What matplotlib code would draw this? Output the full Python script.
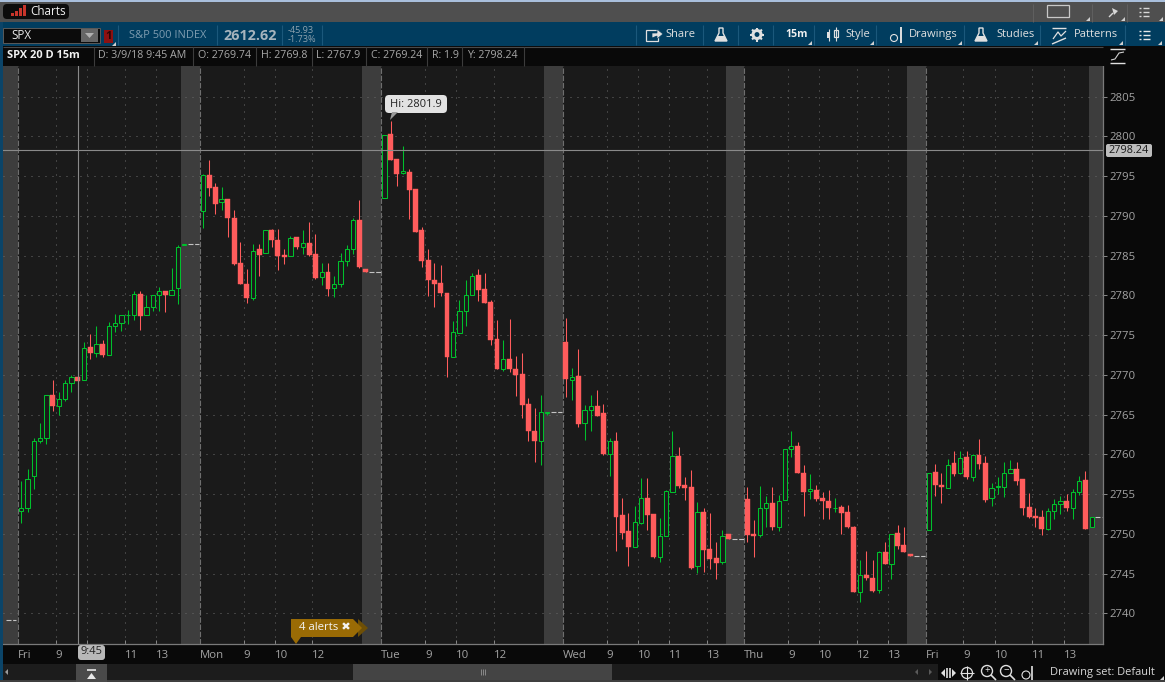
import matplotlib
matplotlib.use("Agg")
import matplotlib.pyplot as plt
from matplotlib.patches import Rectangle, FancyBboxPatch, Polygon, Circle
import numpy as np

plt.rcParams['font.family'] = ['Open Sans', 'DejaVu Sans']

# 15m bars, one row per session, 2 empty slots between sessions
opens = [
    2752.9,2753.3,2757.3,2761.7,2762.1,2767.5,2766.1,2767.0,2769.0,2769.74,2769.3,2773.5,2772.8,2773.9,2772.5,2776.2,2776.5,2777.5,2777.5,2780.2,2777.5,2778.6,2780.0,2780.6,2780.1,2780.9,2786.4, None,None,
    2790.6,2795.2,2793.6,2791.7,2792.1,2789.8,2784.1,2781.5,2779.7,2785.8,2785.3,2788.2,2787.0,2785.1,2784.9,2787.3,2786.1,2786.6,2785.2,2782.3,2783.0,2780.9,2781.4,2784.3,2785.8,2789.5,2783.3, None,None,
    2792.3,2800.3,2797.2,2795.4,2795.5,2793.4,2788.2,2784.5,2782.0,2781.6,2780.3,2772.3,2775.3,2778.0,2780.0,2782.6,2780.8,2779.2,2774.5,2770.8,2772.0,2770.7,2770.1,2766.3,2762.9,2761.7,2765.2, None,None,
    2774.2,2769.4,2769.9,2763.9,2765.6,2766.1,2765.2,2760.1,2761.7,2752.4,2750.4,2748.4,2751.4,2754.5,2752.5,2747.1,2749.7,2755.3,2759.8,2756.2,2755.9,2745.9,2752.8,2748.1,2747.0,2746.4,2750.0, None,None,
    2754.4,2750.0,2749.8,2753.3,2753.9,2750.9,2754.2,2760.7,2761.1,2757.7,2755.4,2755.5,2754.5,2754.1,2753.2,2753.4,2752.7,2750.8,2742.7,2744.8,2744.5,2742.9,2747.7,2746.2,2750.1,2748.6,2747.4, None,None,
    2750.5,2757.8,2756.1,2755.8,2758.9,2757.6,2759.7,2757.1,2759.9,2758.9,2754.5,2755.9,2755.9,2757.7,2758.2,2756.9,2753.4,2752.2,2752.1,2750.6,2752.9,2753.7,2754.1,2753.3,2755.3,2756.8,2750.8,
]
highs = [
    2756.7,2758.1,2762.0,2763.9,2767.5,2769.3,2767.8,2769.3,2770.0,2769.8,2774.1,2775.1,2776.1,2774.4,2776.7,2777.6,2777.5,2778.2,2780.5,2780.5,2780.0,2780.0,2781.1,2780.6,2783.4,2786.4,2786.5, None,None,
    2795.3,2797.0,2794.1,2793.6,2792.1,2790.8,2786.7,2783.3,2786.5,2786.5,2788.2,2788.4,2788.3,2785.9,2787.5,2787.3,2788.2,2789.3,2787.7,2784.1,2784.1,2782.5,2785.4,2786.4,2789.7,2792.0,2783.3, None,None,
    2800.2,2801.9,2797.2,2798.8,2795.9,2793.4,2788.6,2785.9,2784.1,2783.8,2780.3,2776.8,2779.4,2782.0,2782.8,2783.3,2782.8,2779.4,2776.9,2774.4,2777.0,2772.4,2772.8,2767.1,2765.8,2767.5,2765.3, None,None,
    2777.2,2770.9,2773.3,2766.2,2767.5,2768.1,2766.4,2762.0,2762.8,2754.5,2752.6,2753.5,2757.0,2757.0,2752.5,2752.0,2755.5,2763.0,2760.9,2757.2,2758.0,2754.0,2753.3,2752.6,2749.0,2750.5,2750.0, None,None,
    2755.9,2751.8,2756.0,2754.7,2755.9,2754.9,2760.7,2763.0,2761.6,2758.6,2757.5,2756.2,2755.3,2755.5,2754.5,2753.6,2753.6,2751.0,2746.7,2747.8,2746.7,2747.8,2749.0,2750.0,2751.1,2750.8,2747.4, None,None,
    2757.7,2758.8,2757.7,2759.4,2760.4,2760.4,2760.4,2760.0,2761.9,2759.8,2756.4,2757.1,2759.0,2759.3,2759.0,2756.9,2755.1,2753.2,2753.0,2753.2,2754.4,2754.8,2755.0,2755.6,2757.3,2757.9,2752.1,
]
lows = [
    2751.4,2752.7,2755.7,2761.4,2761.3,2765.5,2765.0,2766.7,2767.8,2767.9,2769.3,2772.0,2772.3,2772.3,2772.5,2775.4,2775.5,2776.4,2776.9,2775.7,2777.5,2778.0,2778.1,2777.9,2780.0,2778.9,2786.3, None,None,
    2788.5,2792.5,2790.3,2790.7,2787.3,2783.8,2781.4,2779.1,2779.4,2782.4,2785.3,2786.1,2783.2,2783.9,2784.9,2785.8,2785.2,2785.0,2782.1,2781.3,2779.9,2779.8,2781.1,2783.7,2785.2,2783.5,2783.0, None,None,
    2792.3,2797.1,2793.8,2795.3,2789.6,2788.0,2783.6,2779.9,2778.6,2779.9,2769.7,2772.3,2775.3,2776.2,2780.0,2779.3,2779.1,2773.8,2770.8,2770.5,2770.4,2767.3,2764.6,2761.7,2759.0,2758.7,2765.0, None,None,
    2767.2,2766.9,2763.5,2761.8,2763.0,2764.8,2759.9,2757.3,2747.9,2749.4,2746.0,2748.4,2751.3,2750.5,2747.0,2746.5,2749.7,2755.3,2755.8,2754.3,2745.6,2745.1,2745.2,2745.6,2744.3,2746.2,2749.4, None,None,
    2749.0,2747.1,2749.6,2750.8,2750.5,2750.4,2754.2,2759.7,2757.6,2752.3,2754.4,2754.1,2751.9,2751.9,2752.8,2750.0,2750.7,2742.7,2741.4,2744.2,2742.7,2742.5,2746.2,2744.3,2748.1,2747.7,2747.2, None,None,
    2750.5,2754.8,2753.9,2755.8,2757.3,2757.5,2756.9,2756.6,2758.2,2754.0,2753.5,2755.0,2754.6,2757.6,2756.1,2752.4,2752.0,2750.8,2749.8,2750.5,2751.9,2752.5,2752.9,2751.9,2754.9,2750.6,2750.8,
]
closes = [
    2753.3,2756.9,2761.7,2762.1,2767.5,2766.1,2767.0,2769.0,2769.7,2769.24,2773.4,2772.8,2773.9,2772.5,2776.2,2776.5,2777.5,2777.5,2780.2,2777.4,2778.6,2780.0,2780.6,2780.0,2780.7,2786.1,2786.5, None,None,
    2795.1,2793.5,2791.5,2792.1,2789.8,2784.0,2781.4,2779.7,2785.6,2785.1,2788.2,2787.0,2785.0,2784.8,2787.2,2786.1,2786.6,2785.1,2782.2,2782.9,2780.8,2781.5,2784.3,2785.9,2789.5,2783.6,2783.0, None,None,
    2800.2,2797.1,2795.3,2795.6,2793.3,2788.0,2784.3,2781.9,2781.4,2780.3,2772.2,2775.4,2778.0,2780.1,2782.5,2780.7,2779.1,2774.4,2770.8,2772.0,2770.7,2770.0,2766.2,2762.9,2761.7,2765.3,2765.3, None,None,
    2769.5,2769.7,2763.8,2765.6,2766.1,2764.8,2760.1,2761.7,2752.1,2750.1,2748.4,2751.5,2754.5,2752.4,2747.1,2749.7,2755.4,2759.8,2756.0,2755.8,2745.7,2752.7,2748.0,2746.8,2746.3,2749.7,2749.4, None,None,
    2749.9,2749.7,2753.3,2753.9,2750.9,2754.1,2760.7,2761.0,2757.6,2755.3,2755.6,2754.4,2754.1,2753.3,2753.3,2752.6,2750.8,2742.7,2744.8,2744.4,2742.8,2747.7,2746.2,2750.0,2748.5,2747.7,2747.2, None,None,
    2757.7,2756.1,2755.9,2758.7,2757.5,2759.6,2757.1,2759.9,2758.8,2754.2,2755.8,2756.0,2757.7,2758.1,2756.6,2753.2,2752.1,2752.0,2750.6,2752.9,2753.7,2754.1,2753.2,2755.3,2756.7,2750.6,2752.1,
]
prev_close = 2739.1
crosshair_bar = 9
crosshair_price = 2798.24

price_ticks = [2740, 2745, 2750, 2755, 2760, 2765, 2770, 2775, 2780, 2785, 2790, 2795, 2800, 2805]
session_starts = [-0.5, 28.5, 57.5, 86.5, 115.5, 144.5]
session_labels = ['Fri', 'Mon', 'Tue', 'Wed', 'Thu', 'Fri']
time_ticks = [5.5, 10.5, 16.5, 21.5, 35.5, 40.5, 46.5, 64.5, 69.5, 75.5, 93.5, 98.5, 103.5, 109.5,
              122.5, 127.5, 133.5, 138.5, 150.5, 155.5, 161.5, 166.5]
time_labels = ['9', '', '11', '13', '9', '10', '12', '9', '10', '12', '9', '10', '11', '13',
               '9', '10', '12', '13', '9', '10', '11', '13']

BG = '#1a1a1a'
BAND = '#3d3d3d'
GREEN = '#00c02c'
RED = '#ff5c5c'
GRID = '#6a6a6a'
AXIS_TXT = '#a3a3a3'

W, H = 1165, 682
fig = plt.figure(figsize=(W / 100, H / 100), dpi=100, facecolor='#090909')

# chart area is x 3..1103, y 66..643.5 in pixels
ax = fig.add_axes([3 / W, 1 - 643.5 / H, 1100 / W, 577.5 / H], facecolor=BG)
ax.set_xlim(-2.92, 172.8)
ax.set_ylim(2736.2, 2808.87)

o = np.array(opens, dtype=float)
h = np.array(highs, dtype=float)
l = np.array(lows, dtype=float)
c = np.array(closes, dtype=float)
idx = np.arange(len(o))
ok = ~np.isnan(o)
up = ok & (c >= o)
down = ok & (c < o)

# extended hours bands
ax.axvspan(-2.92, -0.5, color=BAND, lw=0, zorder=1)
for s in session_starts[1:]:
    ax.axvspan(s - 3, s, color=BAND, lw=0, zorder=1)
ax.axvspan(170.6, 172.8, color=BAND, lw=0, zorder=1)

for p in price_ticks:
    ax.axhline(p, color=GRID, lw=0.72, ls=(0, (1, 6)), zorder=2)
for t in time_ticks:
    ax.axvline(t, color=GRID, lw=0.72, ls=(0, (1, 6)), zorder=2)
for s in session_starts:
    ax.axvline(s, color='#6e6e6e', lw=0.8, ls=(0, (5, 1.5)), zorder=2)

ax.vlines(idx[up], l[up], h[up], color=GREEN, lw=0.75, zorder=3)
ax.vlines(idx[down], l[down], h[down], color=RED, lw=0.75, zorder=3)
ax.bar(idx[up], (c - o)[up], bottom=o[up], width=0.7, facecolor=BG, edgecolor=GREEN, lw=0.75, zorder=4)
ax.bar(idx[down], (o - c)[down], bottom=c[down], width=0.78, facecolor=RED, edgecolor=RED, lw=0.3, zorder=4)

# dashed closes carried through the gaps
dash = (0, (4.5, 1.5))
for last in [26, 55, 84, 113, 142]:
    ax.hlines(closes[last], last + 0.6, last + 2.4, color='#c4c4c4', lw=0.8, ls=dash, zorder=3)
ax.hlines(closes[171], 171.6, 172.7, color='#c4c4c4', lw=0.8, ls=dash, zorder=3)
ax.hlines(prev_close, -2.5, -0.8, color='#c4c4c4', lw=0.8, ls=dash, zorder=3)

# crosshair
ax.axvline(crosshair_bar, color='#8a8a8a', lw=0.8, zorder=5)
ax.axhline(crosshair_price, color='#8a8a8a', lw=0.8, zorder=5)

for side in ['top', 'left']:
    ax.spines[side].set_visible(False)
for side in ['bottom', 'right']:
    ax.spines[side].set_color('#7a7a7a')
    ax.spines[side].set_linewidth(0.9)

ax.yaxis.tick_right()
ax.set_yticks(price_ticks)
ax.set_yticklabels([str(p) for p in price_ticks], fontsize=8.2, color=AXIS_TXT)
ax.tick_params(axis='y', length=3, width=0.7, color='#8a8a8a', pad=1.5)
ax.set_xticks(time_ticks + session_starts)
ax.set_xticklabels(time_labels + session_labels, fontsize=8.2, color=AXIS_TXT, ha='left')
ax.tick_params(axis='x', direction='in', length=3, width=0.7, color='#8a8a8a', pad=5)

# everything around the chart is drawn in pixel coordinates
ui = fig.add_axes([0, 0, 1, 1], zorder=5)
ui.set_xlim(0, W)
ui.set_ylim(H, 0)
ui.axis('off')
ui.patch.set_alpha(0)


def box(x0, y0, x1, y1, fc, ec='none', lw=0):
    ui.add_patch(Rectangle((x0, y0), x1 - x0, y1 - y0, facecolor=fc, edgecolor=ec, lw=lw))


def rbox(x0, y0, x1, y1, fc, r=3, ec='none', lw=0):
    ui.add_patch(FancyBboxPatch((x0 + r, y0 + r), x1 - x0 - 2 * r, y1 - y0 - 2 * r,
                                boxstyle='round,pad=%d' % r, facecolor=fc, edgecolor=ec, lw=lw))


def txt(x, y, s, size=8.0, color='#b5b5b5', weight='normal', ha='left'):
    ui.text(x, y, s, fontsize=size, color=color, fontweight=weight, ha=ha, va='center')


def line(xs, ys, color='#e0e0e0', lw=1.0):
    ui.plot(xs, ys, color=color, lw=lw, solid_capstyle='butt')


def tri(pts, fc):
    ui.add_patch(Polygon(pts, facecolor=fc, edgecolor='none'))


def corner(x, y):
    tri([(x, y), (x - 4, y), (x, y - 4)], '#d0d0d0')


def flask(x, y):
    ui.add_patch(Polygon([(x - 2, y - 7), (x + 2, y - 7), (x + 2, y - 2), (x + 6, y + 6), (x - 6, y + 6), (x - 2, y - 2)],
                         facecolor='none', edgecolor='#e0e0e0', lw=1))
    tri([(x - 3.5, y + 1), (x + 3.5, y + 1), (x + 6, y + 6), (x - 6, y + 6)], '#e0e0e0')


# title bar
box(0, 0, W, 2, '#a9bfdc')
box(0, 2, W, 22, '#4f4f4f')
rbox(3, 4, 69, 19, '#0c0c0c', r=4)
for i, bh in enumerate([3, 5, 8, 11]):
    box(11 + i * 4, 16 - bh, 13.5 + i * 4, 16, '#c8352b')
txt(30, 11.5, 'Charts', size=8.4, color='#f0f0f0')
line([1033, 1033], [4, 22], '#5f5f5f', 0.8)
line([1092, 1092], [4, 22], '#5f5f5f', 0.8)
line([1127, 1127], [4, 22], '#5f5f5f', 0.8)
box(1047, 5, 1069, 17, 'none', ec='#c8c8c8', lw=0.9)
corner(1090, 21)
corner(1125, 21)
corner(1163, 21)
# pin
tri([(1112, 8), (1118, 11), (1114, 15)], '#d8d8d8')
line([1113, 1109], [13, 17], '#d8d8d8', 1)
for yy in [8, 12, 16]:
    line([1139, 1141], [yy, yy], '#d8d8d8', 1)
    line([1142.5, 1149], [yy, yy], '#d8d8d8', 1)

# symbol bar
box(0, 22, W, 46, '#013d5f')
box(3, 28, 100, 43, '#0b0b0b', ec='#5a5a5a', lw=0.7)
txt(11, 35.5, 'SPX', size=8.4, color='#e8e8e8')
box(81, 29, 98, 42, '#666666')
tri([(85, 33), (94, 33), (89.5, 38)], '#b0b0b0')
box(104, 30, 113, 43, '#8c1111')
txt(108.5, 36.5, '1', size=8, color='#2a0505', ha='center', weight='bold')
corner(116, 46)
for sx in [118, 217, 282, 322, 636, 703, 738, 773, 814, 876, 964, 1040, 1125]:
    line([sx, sx], [25, 45], '#1b587b', 0.8)
txt(129, 35, 'S&P 500 INDEX', size=7.9, color='#7e9cb0')
txt(223, 35.5, '2612.62', size=10.3, color='#a6b4bd', weight='bold')
txt(288, 30.5, '-45.93', size=6.6, color='#8ea2ae')
txt(288, 39.5, '-1.73%', size=6.6, color='#8ea2ae')
txt(665, 34.5, 'Share', size=8.0, color='#e0e0e0')
txt(785, 34.5, '15m', size=7.6, color='#f0f0f0', weight='bold')
txt(845, 34.5, 'Style', size=8.0, color='#e0e0e0')
txt(909, 34.5, 'Drawings', size=8.0, color='#e0e0e0')
txt(996, 34.5, 'Studies', size=8.0, color='#e0e0e0')
txt(1074, 34.5, 'Patterns', size=8.0, color='#e0e0e0')

# toolbar icons
box(646, 30, 658, 41, 'none', ec='#e0e0e0', lw=0.9)
ui.add_patch(Polygon([(652, 33), (657, 33), (657, 29), (663, 34), (657, 39), (657, 36), (652, 38)], facecolor='#e0e0e0', edgecolor='#013d5f', lw=0.5))
flask(721, 35)
ui.add_patch(Circle((757, 34.5), 4, facecolor='none', edgecolor='#e0e0e0', lw=2.2))
for a in np.arange(0, 360, 45):
    r = np.radians(a)
    line([757 + 4.5 * np.cos(r), 757 + 7 * np.cos(r)], [34.5 + 4.5 * np.sin(r), 34.5 + 7 * np.sin(r)], '#e0e0e0', 1.5)
box(827, 32, 830, 38, '#e0e0e0')
line([828.5, 828.5], [29, 41], '#e0e0e0', 0.8)
box(834, 30, 838, 37, 'none', ec='#e0e0e0', lw=0.9)
line([836, 836], [27, 41], '#e0e0e0', 0.8)
ui.add_patch(Circle((894, 38), 3.5, facecolor='none', edgecolor='#e0e0e0', lw=0.8))
line([901, 901], [27, 43], '#e0e0e0', 1.4)
flask(981, 35)
line([1052, 1066], [28, 28], '#e0e0e0', 1)
line([1053, 1058, 1061, 1066], [39, 32, 36, 31], '#e0e0e0', 0.9)
line([1052, 1066], [44, 38], '#e0e0e0', 1)
for cx in [812, 874, 962, 1038, 1123, 1162]:
    corner(cx, 45)
for yy in [31, 35, 39]:
    line([1139, 1141], [yy, yy], '#e8e8e8', 1)
    line([1142.5, 1150], [yy, yy], '#e8e8e8', 1)

# readout bar
box(0, 46, W, 66, '#090909')
line([3, 1103], [46.5, 46.5], '#4a4a4a', 0.8)
for sx in [94, 193, 256, 312, 366, 427, 462, 524]:
    line([sx, sx], [47, 66], '#3c3c3c', 0.8)
txt(7, 56, 'SPX 20 D 15m', size=7.9, color='#f2f2f2', weight='bold')
txt(98, 56, 'D: 3/9/18 9:45 AM', size=7.7, color='#a8a8a8')
txt(198, 56, 'O: 2769.74', size=7.7, color='#a8a8a8')
txt(261, 56, 'H: 2769.8', size=7.7, color='#a8a8a8')
txt(316, 56, 'L: 2767.9', size=7.7, color='#a8a8a8')
txt(371, 56, 'C: 2769.24', size=7.7, color='#a8a8a8')
txt(432, 56, 'R: 1.9', size=7.7, color='#a8a8a8')
txt(467, 56, 'Y: 2798.24', size=7.7, color='#a8a8a8')

# study icon right of the readout
line([1110, 1125], [49, 49], '#e0e0e0', 1)
line([1110, 1125], [63, 63], '#e0e0e0', 1)
line([1111, 1115, 1119, 1124], [60, 59, 53, 52], '#d0d0d0', 0.8)

# left edge, scrollbar and status
box(0, 22, 2.5, 682, '#0b4468')
box(3, 664, W, 680, '#1c1c1c')
box(0, 680, W, 682, '#3f3f3f')
box(76, 664, 107, 682, '#4a4a4a')
line([87, 96], [670, 670], '#e8e8e8', 1.2)
tri([(87, 679), (96, 679), (91.5, 673)], '#e8e8e8')
tri([(5, 672), (8, 669), (8, 675)], '#9a9a9a')
box(353, 664, 612, 680, '#444444')
for xx in [481, 483, 485]:
    line([xx, xx], [669, 675], '#8a8a8a', 0.7)
tri([(915, 672), (918, 669), (918, 675)], '#5a5a5a')
tri([(932, 672), (929, 669), (929, 675)], '#5a5a5a')
box(938, 664, W, 680, '#090909')

# zoom and pan icons
tri([(941, 673), (945, 669), (945, 677)], '#e0e0e0')
line([947, 947], [668, 678], '#e0e0e0', 1.2)
line([950, 950], [668, 678], '#e0e0e0', 1.2)
tri([(956, 673), (952, 669), (952, 677)], '#e0e0e0')
ui.add_patch(Circle((967, 673), 5.5, facecolor='none', edgecolor='#e0e0e0', lw=0.9))
line([960, 974], [673, 673], '#e0e0e0', 0.8)
line([967, 967], [666, 680], '#e0e0e0', 0.8)
for zx, sym in [(987, '+'), (1006, '\u2212')]:
    ui.add_patch(Circle((zx, 671), 5.5, facecolor='none', edgecolor='#e0e0e0', lw=1))
    line([zx + 4, zx + 9], [675, 680], '#e0e0e0', 1.2)
    ui.text(zx, 671, sym, fontsize=7, color='#e0e0e0', ha='center', va='center')
ui.add_patch(Circle((1026, 675), 4, facecolor='none', edgecolor='#e0e0e0', lw=0.8))
line([1032, 1032], [666, 680], '#e0e0e0', 1.2)
txt(1050, 672.5, 'Drawing set: Default', size=7.9, color='#d8d8d8')
corner(1164, 680)

# Hi bubble
rbox(385, 95, 447, 113, '#e2e2e2', r=4)
tri([(392, 112), (398, 112), (390, 120)], '#9a9a9a')
txt(416, 104.5, 'Hi: 2801.9', size=8.0, color='#222222', ha='center')

# crosshair tags
rbox(1106, 144, 1152, 157, '#bdbdbd', r=2)
txt(1129, 150.5, '2798.24', size=7.8, color='#1a1a1a', ha='center')
rbox(78, 645, 105, 660, '#b8b8b8', r=3)
txt(91.5, 652, '9:45', size=8.0, color='#222222', ha='center')

# alert flag
tri([(358, 619), (368, 628), (358, 637)], '#6e4f06')
tri([(291, 619), (353, 619), (362, 628), (353, 637), (301, 637), (296, 644), (291, 637)], '#9a6b05')
txt(299, 628, '4 alerts \u2716', size=8.2, color='#f4f4f4')

fig.savefig('out.png', dpi=100, facecolor=fig.get_facecolor())
